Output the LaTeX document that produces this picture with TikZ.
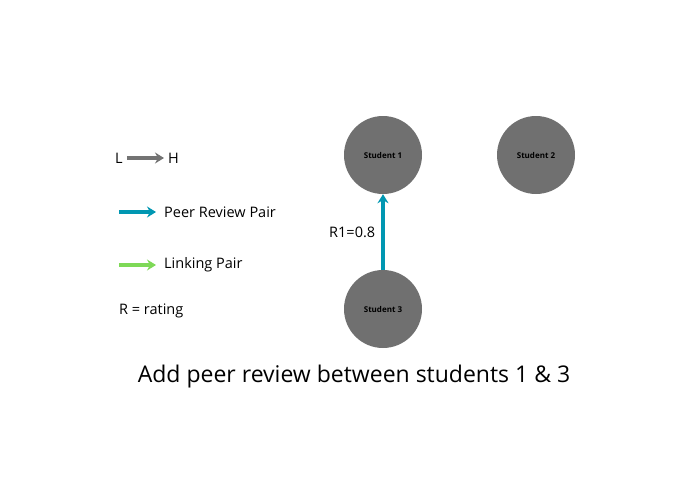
\documentclass[tikz,border=0pt]{standalone}
\usepackage{fontspec}
\setmainfont{Open Sans}
\usetikzlibrary{arrows.meta}
\definecolor{nodegray}{HTML}{707070}
\definecolor{teal}{HTML}{0097B2}
\definecolor{lgreen}{HTML}{7ED957}
\definecolor{agray}{HTML}{737373}
\begin{document}
\begin{tikzpicture}[x=1pt,y=-1pt,
  stu/.style={circle,fill=nodegray,minimum size=78pt,inner sep=0pt,font=\fontsize{8}{9}\selectfont\bfseries},
  arr/.style={-{Stealth[length=9pt,width=11pt,inset=3pt]},line width=3.5pt},
  txt/.style={font=\fontsize{14.5}{16}\selectfont,anchor=west,inner sep=0pt}]
\useasboundingbox (0,0) rectangle (700,500);
\node[stu] (s1) at (383,155) {Student 1};
\node[stu] (s2) at (536,155) {Student 2};
\node[stu] (s3) at (383,309) {Student 3};
\draw[arr,teal] (s3) -- (s1);
\node[txt] (r1) at (329,232) {R1=0.8};
\node[txt] (l) at (115,158) {L};
\node[txt] (h) at (168,158) {H};
\draw[arr,agray] (l.east)++(4,0) coordinate (la) -- ([xshift=-4pt]h.west);
\coordinate (t0) at (119,212);
\node[txt] (pr) at (164,212) {Peer Review Pair};
\draw[arr,teal] (t0) -- ([xshift=-8pt]pr.west);
\coordinate (g0) at (119,265);
\node[txt] (lp) at (164,265) {Linking Pair};
\draw[arr,lgreen] (g0) -- ([xshift=-8pt]lp.west);
\node[txt] (rr) at (119,311) {R = rating};
\node[font=\fontsize{23}{26}\selectfont,inner sep=0pt] (title) at (354,377) {Add peer review between students 1 \& 3};
\end{tikzpicture}
\end{document}
